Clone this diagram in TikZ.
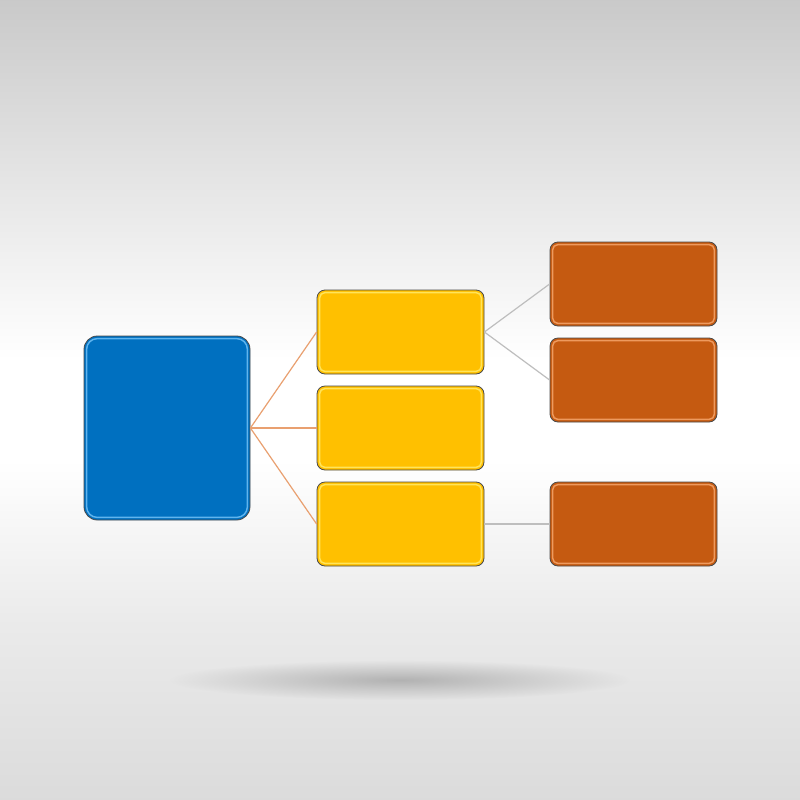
\documentclass[tikz,border=0pt]{standalone}
\usetikzlibrary{calc,fadings}
\definecolor{bluebox}{HTML}{0070C0}
\definecolor{bluehl}{HTML}{5FB4EE}
\definecolor{yelbox}{HTML}{FFC000}
\definecolor{yelhl}{HTML}{FFE45A}
\definecolor{orabox}{HTML}{C55A11}
\definecolor{orahl}{HTML}{EE9A5E}
\definecolor{edgeline}{HTML}{4A4A4A}
\definecolor{orangelink}{HTML}{E9A070}
\definecolor{graylink}{HTML}{BEBEBE}
\pgfdeclareverticalshading{bgshade}{100bp}{color(0bp)=(black!14); color(25bp)=(black!14); color(36.25bp)=(black!8); color(46.25bp)=(white); color(52.5bp)=(white); color(62.5bp)=(black!9); color(75bp)=(black!21); color(100bp)=(black!21)}
\tikzfading[name=shadowfade, inner color=transparent!0, outer color=transparent!100]
\tikzset{
  box/.style={draw=edgeline, line width=0.6pt, minimum width=125.25pt, minimum height=63pt, inner sep=0pt, rounded corners=6pt},
  bluenode/.style={box, fill=bluebox, minimum width=124.5pt, minimum height=138pt, rounded corners=10pt},
  yelnode/.style={box, fill=yelbox},
  oranode/.style={box, fill=orabox},
  olink/.style={draw=orangelink, line width=0.9pt},
  glink/.style={draw=graylink, line width=0.9pt},
  hl/.style={line width=1.1pt}
}
\newcommand{\highlight}[3]{%
  \draw[hl, draw=#2, rounded corners=#3] ($(#1.north west)+(3,3)$) rectangle ($(#1.south east)+(-3,-3)$);}
\begin{document}
\begin{tikzpicture}[x=0.75pt,y=-0.75pt]
  \shade[shading=bgshade] (0,0) rectangle (800,800);
  \useasboundingbox (0,0) rectangle (800,800);
  \fill[black!30, path fading=shadowfade] (400,680) ellipse [x radius=230, y radius=20];

  \node[bluenode] (b) at (167,428) {};
  \node[yelnode] (y1) at (400.5,332) {};
  \node[yelnode] (y2) at (400.5,428) {};
  \node[yelnode] (y3) at (400.5,524) {};
  \node[oranode] (o1) at (633.5,284) {};
  \node[oranode] (o2) at (633.5,380) {};
  \node[oranode] (o3) at (633.5,524) {};

  \highlight{b}{bluehl}{8pt}
  \highlight{y1}{yelhl}{4pt}
  \highlight{y2}{yelhl}{4pt}
  \highlight{y3}{yelhl}{4pt}
  \highlight{o1}{orahl}{4pt}
  \highlight{o2}{orahl}{4pt}
  \highlight{o3}{orahl}{4pt}

  \draw[olink] (b.east) -- (y1.west);
  \draw[olink] (b.east) -- (y2.west);
  \draw[olink] (b.east) -- (y3.west);
  \draw[glink] (y1.east) -- (o1.west);
  \draw[glink] (y1.east) -- (o2.west);
  \draw[glink] (y3.east) -- (o3.west);
\end{tikzpicture}
\end{document}
